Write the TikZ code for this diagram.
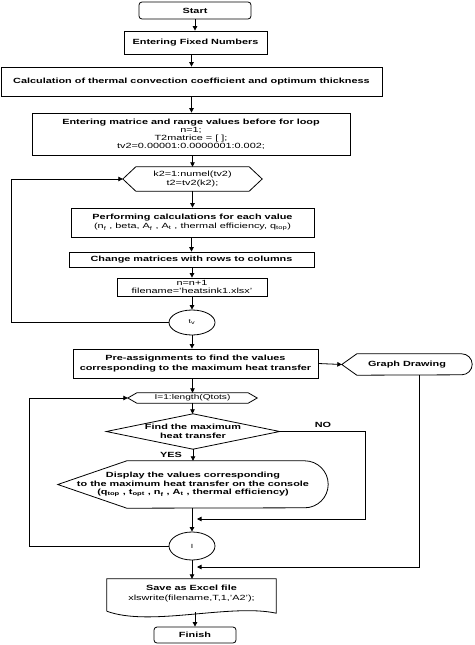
\documentclass[tikz,border=0pt]{standalone}
\usepackage{fontspec}
\setmainfont{Liberation Sans}[FakeStretch=1.45]
\usetikzlibrary{arrows.meta,shapes.geometric}
\newcommand\fsz{\fontsize{7.5}{8.5}\selectfont}
\tikzset{
  box/.style={draw, line width=0.8pt, inner sep=0pt, align=center, font=\fsz},
  plain/.style={inner sep=0pt, align=center, font=\fsz},
  ln/.style={line width=0.8pt},
  arr/.style={line width=0.8pt, -{Triangle[length=4.5pt,width=4.5pt]}},
  lbl/.style={inner sep=0pt, font=\fsz\bfseries},
}
\begin{document}
\begin{tikzpicture}[x=1pt,y=-1pt]
\useasboundingbox (0,0) rectangle (474,645);
% nodes
\node[box, rounded corners=3pt, minimum width=112pt, minimum height=17pt] (start) at (195,10.5) {\bfseries Start};
\node[box, minimum width=143pt, minimum height=23pt] (fixed) at (195.5,42.5) {\bfseries Entering Fixed Numbers};
\node[box, minimum width=381pt, minimum height=29pt] (calc) at (191.5,81.5) {\bfseries Calculation of thermal convection coefficient and optimum thickness};
\node[box, minimum width=318pt, minimum height=42pt, font=\fontsize{7.5}{8}\selectfont] (mat) at (191,134) {\textbf{Entering matrice and range values before for loop}\\ n=1;\\ T2matrice = [ ];\\ tv2=0.00001:0.0000001:0.002;};
\node[plain, minimum width=139pt, minimum height=24pt] (k2) at (192.5,179) {k2=1:numel(tv2)\\ t2=tv2(k2);};
\draw[ln] ([xshift=13pt]k2.north west) -- ([xshift=-13pt]k2.north east) -- (k2.east) -- ([xshift=-13pt]k2.south east) -- ([xshift=13pt]k2.south west) -- (k2.west) -- cycle;
\node[box, minimum width=243pt, minimum height=29pt, font=\fontsize{7.5}{9}\selectfont] (perf) at (192.5,222.5) {\textbf{Performing calculations for each value}\\ (n\textsubscript{f} , beta, A\textsubscript{f} , A\textsubscript{t} , thermal efficiency, q\textsubscript{top})};
\node[box, minimum width=245pt, minimum height=15pt] (chg) at (191.5,259.5) {\bfseries Change matrices with rows to columns};
\node[box, minimum width=150pt, minimum height=18pt, font=\fontsize{7.5}{8}\selectfont] (nn) at (192,287) {n=n+1\\ filename='heatsink1.xlsx'};
\node[box, ellipse, minimum width=46pt, minimum height=25pt, font=\fontsize{6}{7}\selectfont] (tv) at (192,322.5) {t\textsubscript{v}};
\node[box, minimum width=245pt, minimum height=29pt, font=\fontsize{7.5}{10.5}\selectfont\bfseries] (pre) at (195.5,363.5) {Pre-assignments to find the values\\ corresponding to the maximum heat transfer};
\node[plain, minimum width=130pt, minimum height=21pt, font=\fsz\bfseries] (gd) at (407,364.5) {Graph Drawing};
\draw[ln] (gd.west) -- ([xshift=15pt]gd.north west) -- ([xshift=-10.5pt]gd.north east) arc[start angle=90, end angle=-90, radius=10.5pt] -- ([xshift=15pt]gd.south west) -- cycle;
\node[plain, minimum width=129pt, minimum height=10pt, font=\fontsize{7}{8}\selectfont] (hexI) at (192.5,398) {I=1:length(Qtots)};
\draw[ln] ([xshift=9pt]hexI.north west) -- ([xshift=-9pt]hexI.north east) -- (hexI.east) -- ([xshift=-9pt]hexI.south east) -- ([xshift=9pt]hexI.south west) -- (hexI.west) -- cycle;
\node[plain, minimum width=173pt, minimum height=35pt, font=\fontsize{7.5}{8.5}\selectfont\bfseries] (dia) at (193,431.5) {Find the maximum\\ heat transfer};
\draw[ln] (dia.north) -- (dia.east) -- (dia.south) -- (dia.west) -- cycle;
\node[plain, minimum width=270pt, minimum height=47pt, font=\fontsize{7.5}{8.5}\selectfont] (disp) at (193,484.5) {\textbf{Display the values corresponding}\\ \textbf{to the maximum heat transfer on the console}\\ \textbf{(q\textsubscript{top} , t\textsubscript{opt} , n\textsubscript{f} , A\textsubscript{t} , thermal efficiency)}};
\draw[ln] (disp.west) -- ([xshift=69pt]disp.north west) -- ([xshift=-23.5pt]disp.north east) arc[start angle=90, end angle=-90, radius=23.5pt] -- ([xshift=69pt]disp.south west) -- cycle;
\node[box, ellipse, minimum width=46pt, minimum height=28pt, font=\fontsize{6}{7}\selectfont] (ci) at (192,546) {I};
\node[plain, minimum width=169pt, minimum height=30pt, font=\fontsize{7.5}{10}\selectfont] (save) at (191.5,594) {\textbf{Save as Excel file}\\ xlswrite(filename,T,1,'A2');};
\draw[ln] ([yshift=-2pt]save.south west) -- (save.north west) -- (save.north east) -- ([yshift=-4pt]save.south east) .. controls ([xshift=-46pt,yshift=6pt]save.south east) and ([xshift=43pt,yshift=-18pt]save.south west) .. ([yshift=-2pt]save.south west);
\node[box, rounded corners=3pt, minimum width=82pt, minimum height=16pt] (finish) at (195,635) {\bfseries Finish};
\node[lbl] (no) at (323,425) {NO};
\node[lbl] (yes) at (171,455) {YES};
% helper coordinates
\coordinate (lx1) at (11,0);
\coordinate (lx2) at (29,0);
\coordinate (nx) at (365,0);
\coordinate (j1) at (197,519);
\coordinate (j2) at (197,567);
\coordinate (sb) at ([yshift=-3pt]save.south);
% connectors
\draw[arr] (start.south) -- (start.south |- fixed.north);
\draw[arr] (fixed.south -| calc.north) -- (calc.north);
\draw[arr] (calc.south) -- (calc.south |- mat.north);
\draw[arr] (mat.south -| k2.north) -- (k2.north);
\draw[arr] (k2.south) -- (k2.south |- perf.north);
\draw[arr] (perf.south -| chg.north) -- (chg.north);
\draw[arr] (chg.south -| nn.north) -- (nn.north);
\draw[arr] (nn.south) -- (nn.south |- tv.north);
\draw[arr] (tv.south) -- (tv.south |- pre.north);
\draw[arr] (tv.west) -- (tv.west -| lx1) |- (k2.west);
\draw[arr] (pre.east) -- (gd.west);
\draw[arr] (pre.south -| hexI.north) -- (hexI.north);
\draw[arr] (hexI.south) -- (hexI.south |- dia.north);
\draw[arr] (dia.south) -- (dia.south |- disp.north);
\draw[arr] (dia.east) -- (dia.east -| nx) |- (j1);
\draw[arr] (disp.south -| ci.north) -- (ci.north);
\draw[arr] (ci.west) -- (ci.west -| lx2) |- (hexI.west);
\draw[arr] ([xshift=12pt]gd.south) |- (j2);
\draw[arr] (ci.south) -- (ci.south |- save.north);
\draw[arr] (sb -| finish.north) -- (finish.north);
\end{tikzpicture}
\end{document}
